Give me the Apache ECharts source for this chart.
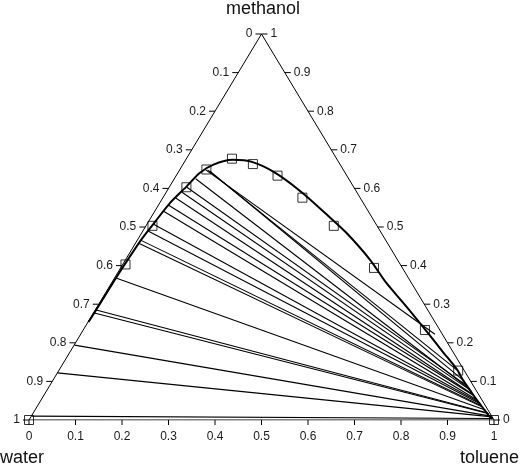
<!DOCTYPE html>
<html>
<head>
<meta charset="utf-8">
<script src="https://cdn.jsdelivr.net/npm/echarts@6/dist/echarts.min.js"></script>
<style>
html,body{margin:0;padding:0;background:#fff;}
#c{width:520px;height:467px;}
</style>
</head>
<body>
<div id="c"></div>
<script>
// Ternary data: t = toluene fraction, m = methanol fraction (water = 1 - t - m)
const vertexNames = ['methanol', 'water', 'toluene'];

// Experimental binodal points (squares)
const sqT = [0.000, 0.006, 0.014, 0.037, 0.057, 0.098, 0.150, 0.218, 0.300, 0.404, 0.545, 0.735, 0.859, 1.000];
const sqM = [0.000, 0.403, 0.503, 0.603, 0.649, 0.677, 0.663, 0.633, 0.576, 0.503, 0.394, 0.233, 0.128, 0.000];

// Calculated binodal curve
const binT = [0.001, 0.002, 0.003, 0.005, 0.008, 0.015, 0.022, 0.036, 0.047, 0.065, 0.101, 0.147, 0.212, 0.296, 0.383, 0.440, 0.526, 0.591, 0.650, 0.700, 0.747, 0.800, 0.856, 0.881, 0.909, 0.937, 0.961, 0.985, 0.995];
const binM = [0.254, 0.300, 0.370, 0.420, 0.470, 0.518, 0.562, 0.604, 0.640, 0.661, 0.674, 0.668, 0.639, 0.587, 0.526, 0.485, 0.415, 0.355, 0.306, 0.264, 0.224, 0.178, 0.130, 0.104, 0.078, 0.052, 0.031, 0.010, 0.003];

// Tie lines (water-rich end -> toluene-rich end)
const tieLeftT  = [0.056, 0.060, 0.066, 0.046, 0.038, 0.034, 0.028, 0.021, 0.019, 0.013, 0.010, 0.007, 0.007, 0.003, 0.002, 0.002, 0.001, 0.000, 0.001];
const tieLeftM  = [0.648, 0.648, 0.645, 0.625, 0.603, 0.590, 0.575, 0.557, 0.541, 0.508, 0.490, 0.466, 0.458, 0.368, 0.285, 0.277, 0.194, 0.122, 0.010];
const tieRightT = [0.762, 0.855, 0.881, 0.900, 0.894, 0.909, 0.915, 0.922, 0.934, 0.939, 0.945, 0.950, 0.957, 0.968, 0.978, 0.981, 0.988, 0.992, 0.995];
const tieRightM = [0.222, 0.130, 0.104, 0.085, 0.091, 0.078, 0.070, 0.065, 0.054, 0.049, 0.044, 0.039, 0.034, 0.026, 0.018, 0.016, 0.010, 0.008, 0.004];

// Axis ticks
const tickValues = [0, 0.1, 0.2, 0.3, 0.4, 0.5, 0.6, 0.7, 0.8, 0.9, 1];
const tickLabels = ['0', '0.1', '0.2', '0.3', '0.4', '0.5', '0.6', '0.7', '0.8', '0.9', '1'];

// Corners (t, m)
const cornerT = [0, 1, 0, 0];
const cornerM = [0, 0, 1, 0];

function xy(t, m) { return [t + 0.5 * m, m]; }

const FONT = '"Liberation Sans", Arial, sans-serif';

function tickSeries(kind) {
  const data = tickValues.map(v => {
    if (kind === 'left') { const w = v; return xy(0, 1 - w); }      // water axis
    if (kind === 'right') { return xy(1 - v, v); }                     // methanol axis
    return xy(v, 0);                                                   // toluene axis
  });
  return {
    type: 'custom', coordinateSystem: 'cartesian2d', clip: false, silent: true, z: 5,
    data: data,
    renderItem: function (params, api) {
      const p = api.coord([api.value(0), api.value(1)]);
      const lab = tickLabels[params.dataIndex];
      let shape, tx, ty, al, va;
      if (kind === 'left') { shape = {x1: p[0] - 6, y1: p[1], x2: p[0], y2: p[1]}; tx = p[0] - 9; ty = p[1]; al = 'right'; va = 'middle'; }
      else if (kind === 'right') { shape = {x1: p[0], y1: p[1], x2: p[0] + 6, y2: p[1]}; tx = p[0] + 9; ty = p[1]; al = 'left'; va = 'middle'; }
      else { shape = {x1: p[0], y1: p[1], x2: p[0], y2: p[1] + 5}; tx = p[0]; ty = p[1] + 11; al = 'center'; va = 'top'; }
      return {
        type: 'group',
        children: [
          {type: 'line', shape: shape, style: {stroke: '#000', lineWidth: 1}},
          {type: 'text', style: {text: lab, x: tx, y: ty, textAlign: al, textVerticalAlign: va, align: al, verticalAlign: va, font: '12px ' + FONT, fill: '#1a1a1a'}}
        ]
      };
    }
  };
}

const chart = echarts.init(document.getElementById('c'), null, {renderer: 'canvas'});
chart.setOption({
  animation: false,
  backgroundColor: '#fff',
  grid: {left: 29, right: 26, top: 34, bottom: 47},
  xAxis: {type: 'value', min: 0, max: 1, show: false},
  yAxis: {type: 'value', min: 0, max: 1, show: false},
  graphic: [
    {type: 'text', left: 226, top: 0, style: {text: vertexNames[0], font: '18px ' + FONT, fill: '#111'}},
    {type: 'text', left: 0, top: 449, style: {text: vertexNames[1], font: '18px ' + FONT, fill: '#111'}},
    {type: 'text', right: 1, top: 449, style: {text: vertexNames[2], font: '18px ' + FONT, fill: '#111'}}
  ],
  series: [
    {
      type: 'line', data: cornerT.map((t, i) => xy(t, cornerM[i])), symbol: 'none',
      lineStyle: {color: '#000', width: 1}, z: 2, silent: true
    },
    {
      type: 'lines', coordinateSystem: 'cartesian2d', silent: true, z: 3,
      lineStyle: {color: '#000', width: 1.1, opacity: 1},
      data: tieLeftT.map((t, i) => ({coords: [xy(t, tieLeftM[i]), xy(tieRightT[i], tieRightM[i])]}))
    },
    {
      type: 'line', data: binT.map((t, i) => xy(t, binM[i])), symbol: 'none', smooth: 0.25,
      lineStyle: {color: '#000', width: 2}, z: 4, silent: true
    },
    {
      type: 'scatter', data: sqT.map((t, i) => xy(t, sqM[i])), symbol: 'rect', symbolSize: 9,
      itemStyle: {color: 'rgba(0,0,0,0)', borderColor: '#000', borderWidth: 1}, z: 6, silent: true
    },
    tickSeries('left'),
    tickSeries('right'),
    tickSeries('bottom')
  ]
});
</script>
</body>
</html>
